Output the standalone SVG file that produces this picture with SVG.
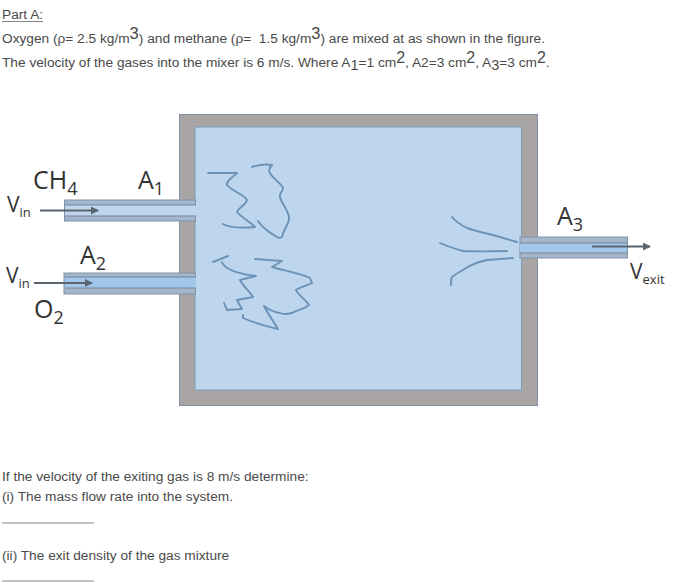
<svg xmlns="http://www.w3.org/2000/svg" width="700" height="587" viewBox="0 0 700 587">
<style>
.t{font-family:"Liberation Sans",Arial,sans-serif;font-size:13.7px;fill:#4a4a4a;white-space:pre}
.l{font-family:"Open Sans","Noto Sans",sans-serif;fill:#333;font-size:25px}
.s{font-size:18px}
.v{font-family:"Open Sans","Noto Sans",sans-serif;fill:#333;font-size:21px}
.vs{font-size:13px}
.sk{fill:none;stroke:#6b92b6;stroke-width:1.9;stroke-linecap:round;stroke-linejoin:round}
.ar{fill:none;stroke:#5b6570;stroke-width:2}
</style>
<defs>
<marker id="h" viewBox="0 0 8 8" refX="7" refY="4" markerWidth="8" markerHeight="8" markerUnits="userSpaceOnUse" orient="auto"><path d="M0 0L8 4L0 8z" fill="#5b6570"/></marker>
</defs>
<rect width="700" height="587" fill="#fff"/>
<g id="question-top">
<text class="t" x="2" y="19">Part A:</text>
<path d="M2 21.500H43" stroke="#666" stroke-width="0.8"/>
<text class="t" x="2" y="43">Oxygen (ρ= 2.5 kg/m<tspan font-size="16.500" dy="-4">3</tspan><tspan dy="4">) and methane (ρ=  1.5 kg/m</tspan><tspan font-size="16.500" dy="-4">3</tspan><tspan dy="4">) are mixed at as shown in the figure.</tspan></text>
<text class="t" x="2" y="67">The velocity of the gases into the mixer is 6 m/s. Where A<tspan font-size="14.500" dy="3">1</tspan><tspan dy="-3">=1 cm</tspan><tspan font-size="16" dy="-4">2</tspan><tspan dy="4">, A2=3 cm</tspan><tspan font-size="16" dy="-4">2</tspan><tspan dy="4">, A</tspan><tspan font-size="14.500" dy="3">3</tspan><tspan dy="-3">=3 cm</tspan><tspan font-size="16" dy="-4">2</tspan><tspan dy="4">.</tspan></text>
</g>
<g id="mixer">
<rect x="179.500" y="114.500" width="358" height="291" fill="#a9a5a5" stroke="#7f93a8"/>
<rect x="195" y="127" width="326.500" height="263" fill="#bdd6ee" stroke="#7f9bb8"/>
</g>
<g id="pipe-a1">
<rect x="64.500" y="200" width="131" height="21" fill="#a3b6cc" stroke="#7f93a9"/>
<rect x="65" y="205" width="131" height="11" fill="#bdd6ee"/>
<path d="M65 205H196M65 216H196" stroke="#74869b"/>
</g>
<g id="pipe-a2">
<rect x="64" y="273" width="131.500" height="21" fill="#a3b6cc" stroke="#7f93a9"/>
<rect x="65" y="277" width="131" height="11" fill="#a3c7ea"/>
<path d="M65 277H196M65 288H196" stroke="#74869b"/>
</g>
<g id="pipe-a3">
<rect x="520" y="237" width="107.500" height="21" fill="#a3b6cc" stroke="#7f93a9"/>
<rect x="520" y="243" width="107" height="10" fill="#a3c7ea"/>
<path d="M520 243H627M520 253H627" stroke="#74869b"/>
</g>
<g id="swirls">
<path class="sk" d="M208 173L237 173C230 179 226 182 227 185C232 191 245 195 247 200C246 205 238 208 237 212C241 217 252 223 255 227C245 228 232 229 223 224"/>
<path class="sk" d="M252 167C258 165 266 164 272 165C268 169 269 172 270 173C274 180 281 183 283 188C283 192 279 193 280 197C281 203 289 211 289 218C289 225 284 228 282 237C280 238 278 238 277 237C270 233 262 227 258 221"/>
<path class="sk" d="M213 262L228 256M222 262C222 264 225 266 227 268C234 272 246 275 256 276L240 280C243 286 250 292 253 297L237 300L242 309L227 310L224 303"/>
<path class="sk" d="M255 259L282 261L272 267C285 271 300 273 310 278L312 283C306 286 300 287 296 290C298 295 306 300 309 305C304 309 298 310 292 313C288 314 284 315 280 313C274 312 268 309 264 306C268 314 274 322 278 329C266 326 252 322 243 318L243 315"/>
<path class="sk" d="M452 217C456 222 461 225 467 228C475 231 484 233 493 235L517 242"/>
<path class="sk" d="M440 243C447 246 455 249 463 251C475 252 495 251 507 251"/>
<path class="sk" d="M451 285C451 280 451 278 452 277C456 274 459 272 463 270C470 265 478 262 487 260L513 258"/>
</g>
<g id="labels">
<text class="l" x="33" y="189">CH<tspan class="s" dy="6">4</tspan></text>
<text class="l" x="138" y="189">A<tspan class="s" dy="6">1</tspan></text>
<text class="l" x="80" y="264">A<tspan class="s" dy="6">2</tspan></text>
<text class="l" x="34" y="318">O<tspan class="s" dy="6">2</tspan></text>
<text class="l" x="557" y="225">A<tspan class="s" dy="6">3</tspan></text>
<text class="v" x="7" y="212">V<tspan class="vs" dy="5">in</tspan></text>
<text class="v" x="6" y="283">V<tspan class="vs" dy="5">in</tspan></text>
<text class="v" x="630" y="279">V<tspan class="vs" dy="5">exit</tspan></text>
</g>
<g id="connectors">
<path class="ar" d="M40 210.500H98" marker-end="url(#h)"/>
<path class="ar" d="M34 283H92" marker-end="url(#h)"/>
<path class="ar" d="M592 246.500H650" marker-end="url(#h)"/>
</g>
<g id="question-bottom">
<text class="t" x="2" y="481">If the velocity of the exiting gas is 8 m/s determine:</text>
<text class="t" x="2" y="501">(i) The mass flow rate into the system.</text>
<path d="M2 523H94" stroke="#666" stroke-width="0.8"/>
<text class="t" x="2" y="560">(ii) The exit density of the gas mixture</text>
<path d="M2 581H94" stroke="#666" stroke-width="0.8"/>
</g>
</svg>
